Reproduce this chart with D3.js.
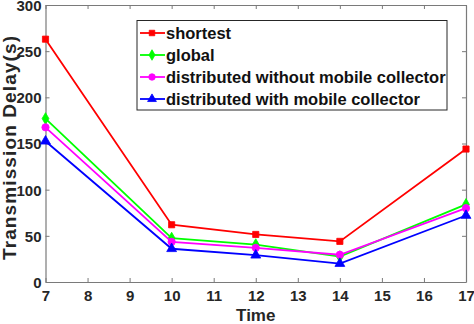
<!DOCTYPE html>
<html>
<head>
<meta charset="utf-8">
<script src="https://cdn.jsdelivr.net/npm/d3@7"></script>
<style>
  html, body { margin: 0; padding: 0; background: #fff; }
  svg { display: block; font-family: "Liberation Sans", Arial, sans-serif; }
</style>
</head>
<body>
<svg id="chart" width="474" height="324"></svg>
<script>
// Transmission delay over time for four routing strategies
const times = [7, 10, 12, 14, 17];
const shortest = [263, 62, 51.5, 44, 144];
const global = [177, 47.5, 40.5, 27.5, 84];
const distWithout = [167.5, 43.5, 37, 29.5, 80];
const distWith = [152.5, 36, 29, 20, 72];

const seriesNames = [
  "shortest",
  "global",
  "distributed without mobile collector",
  "distributed with mobile collector"
];
const seriesColors = ["#ff0000", "#00ff00", "#ff00ff", "#0000ff"];
const seriesSymbols = [d3.symbolSquare, d3.symbolDiamond, d3.symbolCircle, d3.symbolTriangle];
const seriesSizes = [38, 40, 42, 42];

const xTicks = d3.range(7, 18);
const yTicks = [0, 50, 100, 150, 200, 250, 300];

const series = [shortest, global, distWithout, distWith].map((vals, i) => ({
  name: seriesNames[i],
  color: seriesColors[i],
  symbol: seriesSymbols[i],
  size: seriesSizes[i],
  points: vals.map((v, j) => ({ t: times[j], v }))
}));

const svg = d3.select("#chart");
const m = { left: 45.5, right: 466, top: 5, bottom: 282 };

const x = d3.scaleLinear().domain([7, 17]).range([m.left, m.right]);
const y = d3.scaleLinear().domain([0, 300]).range([m.bottom, m.top]);

const axisColor = "#7a7a7a";
const tickLen = 4;

// axes with inward ticks on all four sides
const gx = svg.append("g").attr("transform", `translate(0,${m.bottom})`)
  .call(d3.axisBottom(x).tickValues(xTicks).tickFormat(d3.format("d")).tickSizeInner(-tickLen).tickSizeOuter(0).tickPadding(8));
const gxTop = svg.append("g").attr("transform", `translate(0,${m.top})`)
  .call(d3.axisTop(x).tickValues(xTicks).tickFormat("").tickSizeInner(-tickLen).tickSizeOuter(0));
const gy = svg.append("g").attr("transform", `translate(${m.left},0)`)
  .call(d3.axisLeft(y).tickValues(yTicks).tickSizeInner(-tickLen).tickSizeOuter(0).tickPadding(4));
const gyRight = svg.append("g").attr("transform", `translate(${m.right},0)`)
  .call(d3.axisRight(y).tickValues(yTicks).tickFormat("").tickSizeInner(-tickLen).tickSizeOuter(0));

[gx, gxTop, gy, gyRight].forEach(g => {
  g.selectAll(".domain").attr("stroke", axisColor).attr("stroke-width", 1.2);
  g.selectAll(".tick line").attr("stroke", axisColor).attr("stroke-width", 1);
  g.selectAll(".tick text")
    .attr("fill", "#262626")
    .attr("font-size", 15)
    .attr("font-weight", "bold");
});
gy.selectAll(".tick text").attr("dy", "0.36em");

// axis titles
svg.append("text")
  .attr("x", (m.left + m.right) / 2)
  .attr("y", 321)
  .attr("text-anchor", "middle")
  .attr("font-size", 17)
  .attr("font-weight", "bold")
  .attr("fill", "#262626")
  .text("Time");

svg.append("text")
  .attr("transform", `translate(16,148) rotate(-90)`)
  .attr("text-anchor", "middle")
  .attr("font-size", 19)
  .attr("font-weight", "bold")
  .attr("fill", "#262626")
  .attr("textLength", 224)
  .attr("lengthAdjust", "spacing")
  .text("Transmission Delay(s)");

// series lines and markers
const line = d3.line().x(d => x(d.t)).y(d => y(d.v));

series.forEach(s => {
  svg.append("path")
    .datum(s.points)
    .attr("fill", "none")
    .attr("stroke", s.color)
    .attr("stroke-width", 1.8)
    .attr("d", line);
  svg.append("g").selectAll("path")
    .data(s.points)
    .join("path")
    .attr("transform", d => `translate(${x(d.t)},${y(d.v)})`)
    .attr("d", d3.symbol().type(s.symbol).size(s.size))
    .attr("fill", s.color)
    .attr("stroke", s.color)
    .attr("stroke-width", 0.8);
});

// legend
const lg = svg.append("g");
const boxX = 137, boxW = 310;
lg.append("rect")
  .attr("x", boxX).attr("y", 20.5)
  .attr("width", boxW).attr("height", 89.5)
  .attr("fill", "#fff")
  .attr("stroke", "#262626")
  .attr("stroke-width", 1);

const legendY = [33, 55, 77, 99];
const textX = 166;
const labels = [];
series.forEach((s, i) => {
  const row = lg.append("g").attr("transform", `translate(0,${legendY[i]})`);
  row.append("line")
    .attr("x1", 140).attr("x2", 165)
    .attr("stroke", s.color).attr("stroke-width", 1.8);
  row.append("path")
    .attr("transform", "translate(152,0)")
    .attr("d", d3.symbol().type(s.symbol).size(s.size * 0.8))
    .attr("fill", s.color)
    .attr("stroke", s.color)
    .attr("stroke-width", 0.8);
  labels.push(row.append("text")
    .attr("dy", "0.36em")
    .attr("font-size", 16.5)
    .attr("font-weight", "bold")
    .attr("fill", "#111")
    .text(s.name));
});

// widen the labels so the longest one ends just inside the legend frame
const longest = d3.max(labels, t => t.node().getComputedTextLength());
const sx = Math.max(1, (boxX + boxW - 4 - textX) / longest);
labels.forEach(t => t.attr("transform", `translate(${textX},0) scale(${sx},1)`));
</script>
</body>
</html>
